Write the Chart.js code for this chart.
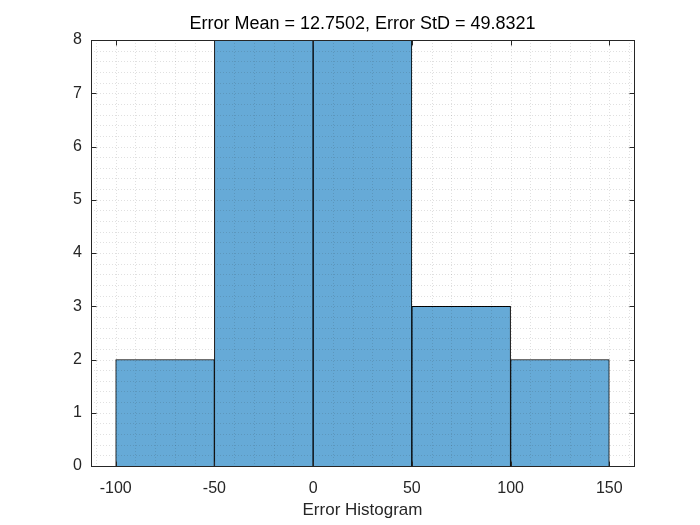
<!DOCTYPE html>
<html>
<head>
<meta charset="utf-8">
<script src="https://cdn.jsdelivr.net/npm/chart.js@4/dist/chart.umd.min.js"></script>
<style>
  html, body { margin: 0; padding: 0; background: #fff; }
  #wrap { width: 700px; height: 525px; }
</style>
</head>
<body>
<div id="wrap"><canvas id="hist"></canvas></div>
<script>
// --- Datos del histograma ---
const binEdges = [-100, -50, 0, 50, 100, 150];
const binCounts = [2, 8, 8, 3, 2];
const xTicks = [-100, -50, 0, 50, 100, 150];
const yTicks = [0, 1, 2, 3, 4, 5, 6, 7, 8];
const titleText = 'Error Mean = 12.7502, Error StD = 49.8321';
const xLabel = 'Error Histogram';

const axisColor = 'rgb(38,38,38)';
const fontFamily = '"Liberation Sans", Arial, Helvetica, sans-serif';

// centros de cada bin
const bars = binCounts.map((c, i) => ({ x: (binEdges[i] + binEdges[i + 1]) / 2, y: c }));

// --- Rejilla menor encima de las barras, caja y ticks hacia adentro ---
const gridPlugin = {
    id: 'matlabGrid',
    afterDatasetsDraw(chart) {
        const { ctx, chartArea: a, scales } = chart;
        const xs = scales.x, ys = scales.y;
        ctx.save();
        ctx.lineWidth = 1;

        // menor
        ctx.strokeStyle = 'rgba(38,38,38,0.14)';
        ctx.setLineDash([1, 2]);
        for (let v = -110; v <= 160; v += 10) {
            const px = Math.round(xs.getPixelForValue(v)) + 0.5;
            ctx.beginPath(); ctx.moveTo(px, a.top); ctx.lineTo(px, a.bottom); ctx.stroke();
        }
        for (let k = 1; k < 40; k++) {
            const py = Math.round(ys.getPixelForValue(k / 5)) + 0.5;
            ctx.beginPath(); ctx.moveTo(a.left, py); ctx.lineTo(a.right, py); ctx.stroke();
        }

        // caja
        ctx.setLineDash([]);
        ctx.strokeStyle = axisColor;
        const l = Math.round(a.left) + 0.5, r = Math.round(a.right) + 0.5;
        const t = Math.round(a.top) + 0.5, b = Math.round(a.bottom) + 0.5;
        ctx.strokeRect(l, t, r - l, b - t);

        // ticks
        const tl = 5;
        xTicks.forEach(v => {
            const px = Math.round(xs.getPixelForValue(v)) + 0.5;
            ctx.beginPath();
            ctx.moveTo(px, b); ctx.lineTo(px, b - tl);
            ctx.moveTo(px, t); ctx.lineTo(px, t + tl);
            ctx.stroke();
        });
        yTicks.forEach(v => {
            const py = Math.round(ys.getPixelForValue(v)) + 0.5;
            ctx.beginPath();
            ctx.moveTo(l, py); ctx.lineTo(l + tl, py);
            ctx.moveTo(r, py); ctx.lineTo(r - tl, py);
            ctx.stroke();
        });

        // título centrado sobre el área del gráfico
        ctx.fillStyle = '#000';
        ctx.font = '18px ' + fontFamily;
        ctx.textAlign = 'center';
        ctx.textBaseline = 'middle';
        ctx.fillText(titleText, (a.left + a.right) / 2, 24);
        ctx.restore();
    }
};

const ctx = document.getElementById('hist').getContext('2d');
new Chart(ctx, {
    type: 'bar',
    data: {
        datasets: [{
            label: 'Error',
            data: bars,
            backgroundColor: 'rgb(102,170,215)',
            borderColor: '#000',
            borderWidth: 1,
            barPercentage: 1,
            categoryPercentage: 1
        }]
    },
    options: {
        responsive: true,
        maintainAspectRatio: false,
        animation: false,
        layout: { padding: { left: 0, right: 66, top: 40, bottom: 0 } },
        plugins: {
            legend: { display: false },
            tooltip: { enabled: false },
            title: { display: false }
        },
        scales: {
            x: {
                type: 'linear',
                offset: false,
                min: -112.5,
                max: 162.5,
                grid: { display: false, drawTicks: false },
                border: { display: false },
                afterBuildTicks: s => { s.ticks = xTicks.map(v => ({ value: v })); },
                afterFit: s => { s.height = 59; },
                ticks: {
                    color: axisColor,
                    padding: 13,
                    maxRotation: 0,
                    autoSkip: false,
                    font: { family: fontFamily, size: 16 }
                },
                title: {
                    display: true,
                    text: xLabel,
                    color: axisColor,
                    font: { family: fontFamily, size: 17 },
                    padding: { top: 4, bottom: 4 }
                }
            },
            y: {
                min: 0,
                max: 8,
                grid: { display: false, drawTicks: false },
                border: { display: false },
                afterBuildTicks: s => { s.ticks = yTicks.map(v => ({ value: v })); },
                afterFit: s => { s.width = 91; },
                ticks: {
                    color: axisColor,
                    padding: 9,
                    autoSkip: false,
                    font: { family: fontFamily, size: 16 }
                }
            }
        }
    },
    plugins: [gridPlugin]
});
</script>
</body>
</html>
